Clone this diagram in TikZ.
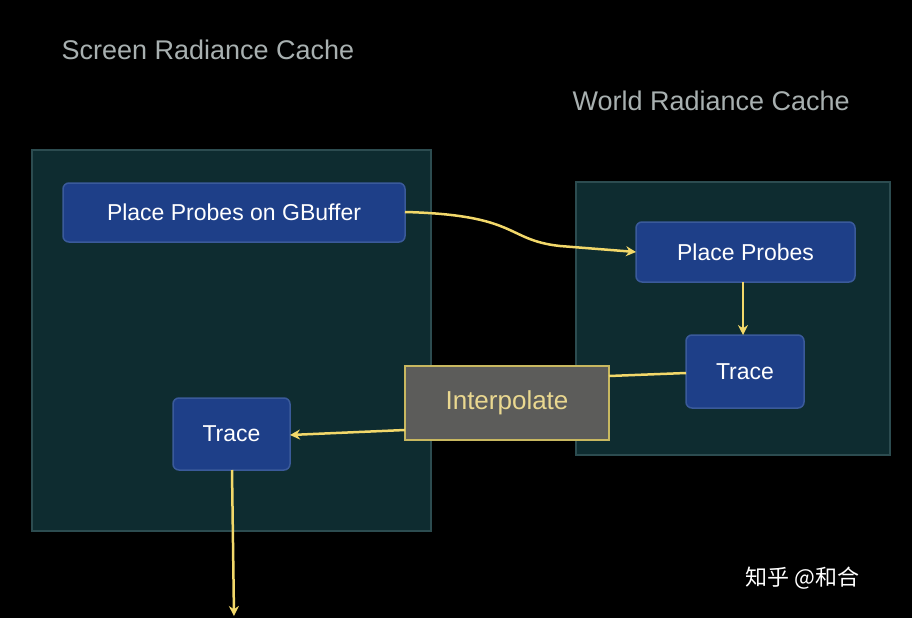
\documentclass[tikz,border=0pt]{standalone}
\usepackage{fontspec}
\setmainfont{Liberation Sans}
\newfontfamily\cjk{Noto Sans CJK SC}
\usetikzlibrary{arrows.meta}
\definecolor{bg}{HTML}{000000}
\definecolor{panel}{HTML}{0E2C30}
\definecolor{panelb}{HTML}{2C4C50}
\definecolor{nodeblue}{HTML}{1E3F88}
\definecolor{nodeb}{HTML}{3A5A9A}
\definecolor{ttl}{HTML}{A8B0B0}
\definecolor{arr}{HTML}{F2D86A}
\definecolor{interp}{HTML}{5C5C5A}
\definecolor{interpb}{HTML}{C8B860}
\definecolor{interpt}{HTML}{EAD890}
\tikzset{
 panelbox/.style={fill=panel,draw=panelb,line width=1.5pt},
 bluebox/.style={fill=nodeblue,draw=nodeb,line width=1.5pt,rounded corners=6pt,text=white,font=\fontsize{23}{26}\selectfont},
 conn/.style={draw=arr,line width=2.5pt,-{Stealth[length=10pt,width=10pt]}},
 ttltext/.style={text=ttl,font=\fontsize{27}{30}\selectfont,anchor=west}
}
\begin{document}
\begin{tikzpicture}[x=1pt,y=-1pt]
\fill[bg] (0,0) rectangle (912,618);
\useasboundingbox (0,0) rectangle (912,618);
\node[ttltext] (t1) at (58,50) {Screen Radiance Cache};
\node[ttltext] (t2) at (569,101) {World Radiance Cache};
\path[panelbox] (32,150) rectangle (431,531);
\path[panelbox] (576,182) rectangle (890,455);
\path[bluebox] (63,183) rectangle (405,242);
\node[text=white,font=\fontsize{23}{26}\selectfont] (gb) at (234,212.5) {Place Probes on GBuffer};
\coordinate (gbr) at (405,212);
\path[bluebox] (636,222) rectangle (855,282);
\node[text=white,font=\fontsize{23}{26}\selectfont] (pp) at (745.5,252) {Place Probes};
\path[bluebox] (686,335) rectangle (804,408);
\node[text=white,font=\fontsize{23}{26}\selectfont] (tr) at (745,371.5) {Trace};
\path[bluebox] (173,398) rectangle (290,470);
\node[text=white,font=\fontsize{23}{26}\selectfont] (tl) at (231.5,434) {Trace};
\path[fill=interp,draw=interpb,line width=1.5pt] (405,366) rectangle (609,440);
\node[text=interpt,font=\fontsize{26}{30}\selectfont] (ip) at (507,403) {Interpolate};
\coordinate (end) at (234,616);
\draw[conn] (gbr) .. controls (520,215) and (505,240) .. (560,246) -- (636,252);
\draw[conn] (743,282) -- (743,335);
\draw[draw=arr,line width=2.5pt] (686,373) -- (609,376);
\draw[conn] (405,430) -- (290,435);
\draw[conn] (232,470) -- (end);
\node[text=white,font=\cjk\fontsize{22}{26}\selectfont,anchor=west] (wm) at (742,578) {知乎 @和合};
\end{tikzpicture}
\end{document}
